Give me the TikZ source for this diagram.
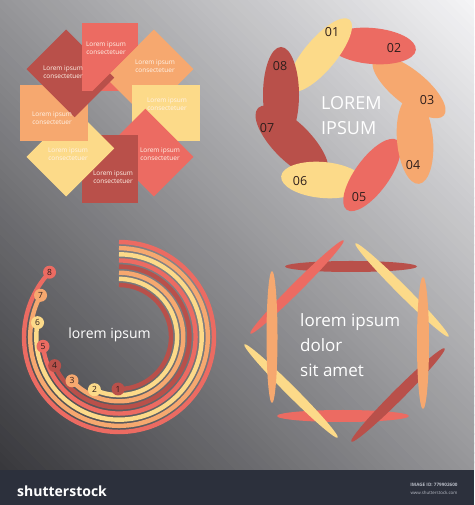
\documentclass[tikz,border=0pt]{standalone}
\usepackage{fontspec}
\setmainfont{Open Sans}
\definecolor{cDR}{HTML}{B9504A}
\definecolor{cSa}{HTML}{EC6B62}
\definecolor{cOr}{HTML}{F6A86F}
\definecolor{cYe}{HTML}{FCDA89}
\definecolor{bgDark}{HTML}{38383C}
\definecolor{bgLight}{HTML}{F6F6F8}
\definecolor{barCol}{HTML}{2C303C}
\definecolor{txtCream}{HTML}{FFF3E8}
\definecolor{numDark}{HTML}{2E1E1C}
\definecolor{barGray}{HTML}{B8BCC6}
\begin{document}
\begin{tikzpicture}[x=1pt,y=1pt,
  q1txt/.style={text=txtCream, align=center, font=\fontsize{6.5}{7.7}\selectfont, inner sep=0pt},
  numtxt/.style={text=numDark, font=\fontsize{12.5}{13}\selectfont, inner sep=0pt},
  dottxt/.style={circle, minimum size=13pt, inner sep=0pt, text=numDark, font=\fontsize{8.5}{9}\selectfont},
  bigtxt/.style={text=white, inner sep=0pt},
]
\useasboundingbox (0,0) rectangle (474,505);
% background gradient
\begin{scope}
  \clip (0,35) rectangle (474,505);
  \begin{scope}[shift={(0,35)}, rotate=45]
    \foreach \i in {0,...,99} {
      \fill[bgLight!\i!bgDark] (\i*6.68-0.6, -400) rectangle (\i*6.68+7.3, 400);
    }
  \end{scope}
\end{scope}
% bottom bar
\fill[barCol] (0,0) rectangle (474,35);
\node[anchor=base west, text=white, inner sep=0pt, font=\fontsize{14}{14}\selectfont\bfseries] (logo) at (17,8.5) {shutterstock};
\node[text=barGray, inner sep=0pt, font=\fontsize{4.6}{5}\selectfont\bfseries] (imgid) at (434,20.5) {IMAGE ID: 779902600};
\node[text=barGray, inner sep=0pt, font=\fontsize{4.4}{5}\selectfont] (site) at (434,12) {www.shutterstock.com};

% ---------- Quadrant 1: pinwheel of rectangles ----------
\begin{scope}[shift={(110,392)}]
  \foreach \ang/\col in {90/cSa, 45/cOr, 0/cYe, -45/cSa, -90/cDR, -135/cYe, 180/cOr, 135/cDR}
    \fill[\col, rotate=\ang-90] (-28,22) rectangle (28,90);
\end{scope}
\begin{scope}
  \clip (-10,311.6) -- (220,541.6) -- (-10,541.6) -- cycle;
  \fill[cSa] (82,414) rectangle (138,482);
\end{scope}
\node[q1txt] (p1) at (63,433) {Lorem ipsum\\consectetuer};
\node[q1txt] (p2) at (106,457) {Lorem ipsum\\consectetuer};
\node[q1txt] (p3) at (155,439) {Lorem ipsum\\consectetuer};
\node[q1txt] (p4) at (167,401) {Lorem ipsum\\consectetuer};
\node[q1txt] (p5) at (160,351) {Lorem ipsum\\consectetuer};
\node[q1txt] (p6) at (113,328) {Lorem ipsum\\consectetuer};
\node[q1txt] (p7) at (68,351) {Lorem ipsum\\consectetuer};
\node[q1txt] (p8) at (52,387) {Lorem ipsum\\consectetuer};

% ---------- Quadrant 2: ring of ellipses ----------
\fill[cDR, shift={(292,363)}, rotate=-45] (0,0) ellipse [x radius=48, y radius=19];
\fill[cYe, shift={(323,325)}, rotate=-5] (0,0) ellipse [x radius=42, y radius=18];
\fill[cSa, shift={(372,330)}, rotate=54] (0,0) ellipse [x radius=43, y radius=17];
\fill[cOr, shift={(415,365)}, rotate=95] (0,0) ellipse [x radius=44, y radius=18];
\fill[cOr, shift={(409,418)}, rotate=-39] (0,0) ellipse [x radius=45, y radius=17];
\fill[cSa, shift={(372,459)}, rotate=-5] (0,0) ellipse [x radius=44, y radius=18];
\fill[cYe, shift={(320,450)}, rotate=50] (0,0) ellipse [x radius=46, y radius=16];
\fill[cDR, shift={(281,410)}, rotate=90] (0,0) ellipse [x radius=48, y radius=18];
\node[numtxt] (n1) at (332,473) {01};
\node[numtxt] (n2) at (394,457) {02};
\node[numtxt] (n3) at (427,405) {03};
\node[numtxt] (n4) at (413,340) {04};
\node[numtxt] (n5) at (359,308) {05};
\node[numtxt] (n6) at (300,324) {06};
\node[numtxt] (n7) at (267,377) {07};
\node[numtxt] (n8) at (280,439) {08};
\node[bigtxt, anchor=base west, font=\fontsize{18}{18}\selectfont] (lor) at (321,395) {LOREM};
\node[bigtxt, anchor=base west, font=\fontsize{18}{18}\selectfont] (ips) at (321,370) {IPSUM};

% ---------- Quadrant 3: concentric arcs ----------
\foreach \k/\col/\e in {8/cSa/-223, 7/cOr/-208, 6/cYe/-190, 5/cSa/-173, 4/cDR/-156, 3/cOr/-137, 2/cYe/-115, 1/cDR/-91} {
  \pgfmathsetmacro\r{52+(\k-1)*6.14}
  \draw[\col, line width=4.4pt] ([shift={(90:\r)}]119,168) arc [start angle=90, end angle=\e, radius=\r];
}
\foreach \k/\col/\e in {8/cSa/-223, 7/cOr/-208, 6/cYe/-190, 5/cSa/-173, 4/cDR/-156, 3/cOr/-137, 2/cYe/-115, 1/cDR/-91} {
  \pgfmathsetmacro\r{52+(\k-1)*6.14}
  \node[dottxt, fill=\col] (d\k) at ([shift={(\e:\r)}]119,168) {\k};
}
\node[bigtxt, anchor=base, font=\fontsize{14}{14}\selectfont] (q3t) at (109.5,166) {lorem ipsum};

% ---------- Quadrant 4: thin ellipses frame ----------
\fill[cDR, shift={(351,238.5)}] (0,0) ellipse [x radius=66, y radius=5.5];
\fill[cSa, shift={(343,89)}] (0,0) ellipse [x radius=66, y radius=6];
\fill[cSa, shift={(297,218)}, rotate=45] (0,0) ellipse [x radius=66, y radius=5];
\fill[cYe, shift={(402,215)}, rotate=-45] (0,0) ellipse [x radius=66, y radius=5];
\fill[cDR, shift={(398,110)}, rotate=45] (0,0) ellipse [x radius=66, y radius=5.5];
\fill[cYe, shift={(291,114)}, rotate=-45] (0,0) ellipse [x radius=66, y radius=5];
\fill[cOr, shift={(272,168)}, rotate=90] (0,0) ellipse [x radius=66, y radius=5.5];
\fill[cOr, shift={(423,162)}, rotate=90] (0,0) ellipse [x radius=66, y radius=6];
\node[bigtxt, anchor=base west, font=\fontsize{17}{17}\selectfont] (q4a) at (300,178) {lorem ipsum};
\node[bigtxt, anchor=base west, font=\fontsize{17}{17}\selectfont] (q4b) at (300,153) {dolor};
\node[bigtxt, anchor=base west, font=\fontsize{17}{17}\selectfont] (q4c) at (300,128) {sit amet};
\end{tikzpicture}
\end{document}
